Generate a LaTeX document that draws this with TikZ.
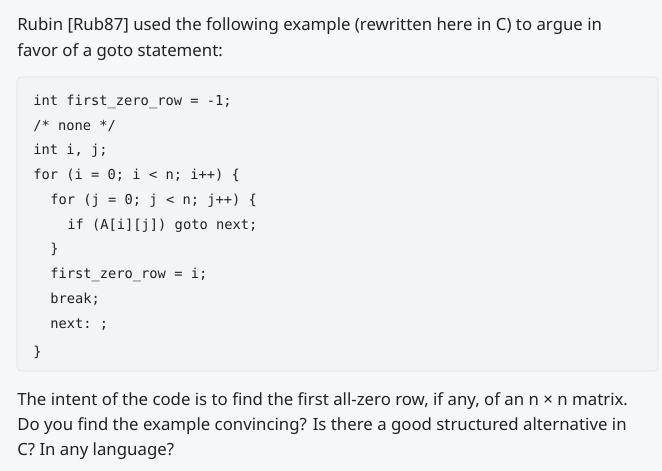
\documentclass[tikz,border=0pt]{standalone}
\usepackage{fontspec}
\setmainfont{Noto Sans}
\setmonofont{DejaVu Sans Mono}
\definecolor{bg}{HTML}{F6F7F9}
\definecolor{codebg}{HTML}{F3F4F6}
\definecolor{codeborder}{HTML}{DCDEE2}
\definecolor{txt}{HTML}{1F2328}
\begin{document}
\begin{tikzpicture}[x=0.75pt,y=-0.75pt,
  para/.style={anchor=base west,inner sep=0,text=txt,font=\fontsize{12.6pt}{15pt}\selectfont},
  code/.style={anchor=base west,inner sep=0,text=txt,font=\ttfamily\fontsize{10.3pt}{12pt}\selectfont}]
\fill[bg] (0,0) rectangle (662,471);
\useasboundingbox (0,0) rectangle (662,471);
\draw[codeborder,fill=codebg,rounded corners=3pt] (17,77) rectangle (658,371);
\node[para] (p1) at (17,31) {Rubin [Rub87] used the following example (rewritten here in C) to argue in};
\node[para] (p2) at (17,56) {favor of a goto statement:};
\node[code] (c1) at (33,105) {int first\_zero\_row = -1;};
\node[code] (c2) at (33,130) {/* none */};
\node[code] (c3) at (33,154) {int i, j;};
\node[code] (c4) at (33,179) {for (i = 0; i < n; i++) \{};
\node[code] (c5) at (50,204) {for (j = 0; j < n; j++) \{};
\node[code] (c6) at (67,229) {if (A[i][j]) goto next;};
\node[code] (c7) at (50,253) {\}};
\node[code] (c8) at (50,278) {first\_zero\_row = i;};
\node[code] (c9) at (50,303) {break;};
\node[code] (c10) at (50,328) {next: ;};
\node[code] (c11) at (33,356) {\}};
\node[para] (q1) at (17,405) {The intent of the code is to find the first all-zero row, if any, of an n × n matrix.};
\node[para] (q2) at (17,430) {Do you find the example convincing? Is there a good structured alternative in};
\node[para] (q3) at (17,455) {C? In any language?};
\end{tikzpicture}
\end{document}
